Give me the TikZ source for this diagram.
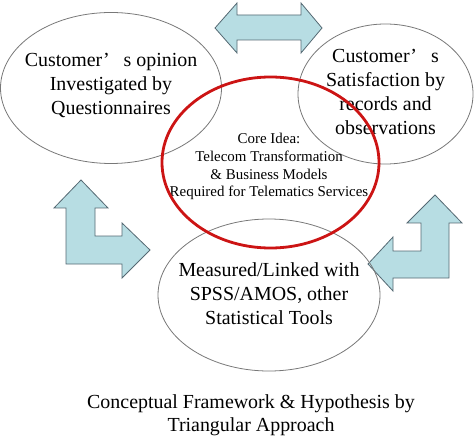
\documentclass[tikz,border=0pt]{standalone}
\usepackage{fontspec}
\setmainfont{Liberation Serif}
\usetikzlibrary{shapes.geometric}
\definecolor{arrowfill}{RGB}{183,221,227}
\definecolor{arrowedge}{RGB}{85,105,115}
\definecolor{ringred}{RGB}{204,20,20}
\definecolor{ringgray}{RGB}{120,120,120}
\begin{document}
\begin{tikzpicture}[x=1bp,y=-1bp,
  bigtext/.style={font=\fontsize{20}{24}\selectfont, align=center, inner sep=0pt},
  smalltext/.style={font=\fontsize{15}{18}\selectfont, align=center, inner sep=0pt},
  oval/.style={ellipse, draw=ringgray, line width=0.8bp, inner sep=0pt},
  corering/.style={ellipse, draw=ringred, line width=2.8bp, inner sep=0pt},
  blockarrow/.style={fill=arrowfill, draw=arrowedge, line width=0.8bp, line join=miter}]
\useasboundingbox (0,0) rectangle (474,438);
% block arrows
\draw[blockarrow] (215,28) -- (237,3) -- (237,15) -- (301,15) -- (301,3) -- (322,28)
  -- (301,53) -- (301,40) -- (237,40) -- (237,53) -- cycle;
\draw[blockarrow] (81,180) -- (108,208) -- (95,208) -- (95,236) -- (122,236) -- (122,223)
  -- (150,250) -- (122,278) -- (122,264) -- (66,264) -- (66,208) -- (54,208) -- cycle;
\draw[blockarrow] (435,195) -- (462,223) -- (449,223) -- (449,278) -- (393,278) -- (393,291)
  -- (368,264) -- (393,237) -- (393,251) -- (421,251) -- (421,223) -- (407,223) -- cycle;
% ovals
\node[oval, minimum width=221bp, minimum height=151bp] (opinion) at (111,88) {};
\node[oval, minimum width=175bp, minimum height=140bp] (satisf) at (385.5,94) {};
\node[oval, minimum width=222bp, minimum height=152bp] (measured) at (269,295) {};
\node[bigtext] (opiniontext) at ([yshift=2.5bp]opinion.center)
  {Customer’\hspace{0.7em}s opinion\\Investigated by\\Questionnaires};
\node[bigtext] (satisftext) at ([yshift=2bp]satisf.center)
  {Customer’\hspace{0.7em}s\\Satisfaction by\\records and\\observations};
\node[bigtext] (measuredtext) at ([yshift=1.5bp]measured.center)
  {Measured/Linked with\\SPSS/AMOS, other\\Statistical Tools};
\node[smalltext] (coretext) at (269,166.5)
  {Core Idea:\\Telecom Transformation\\\& Business Models\\Required for Telematics Services};
\node[corering, minimum width=217bp, minimum height=171bp] (core) at (270.5,162.5) {};
% caption
\node[bigtext, font=\fontsize{20}{23}\selectfont] (caption) at (251,415)
  {Conceptual Framework \& Hypothesis by\\Triangular Approach};
\end{tikzpicture}
\end{document}
